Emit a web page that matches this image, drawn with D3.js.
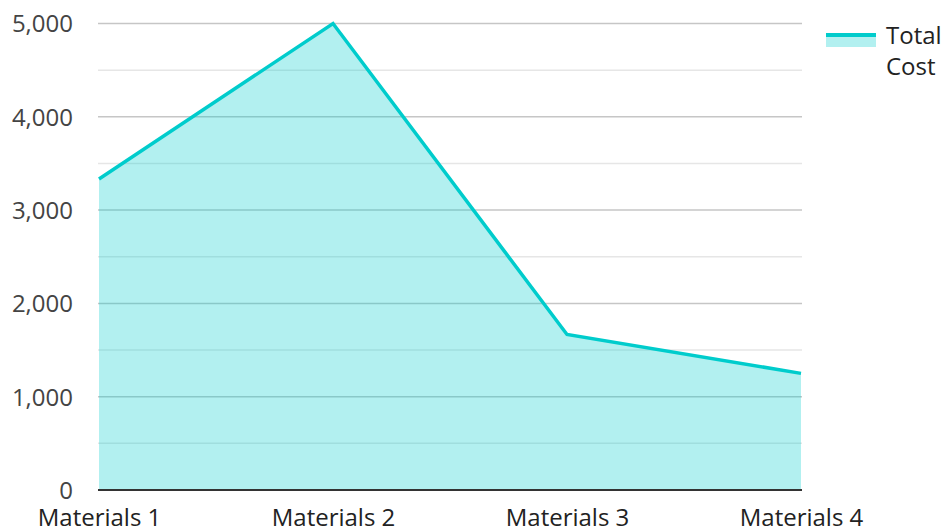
<!DOCTYPE html>
<html><head><meta charset="utf-8">
<script src="https://cdn.jsdelivr.net/npm/d3@7"></script>
<style>body{margin:0;background:#fff;}svg{display:block;font-family:"Open Sans",sans-serif;}</style>
</head><body><svg id="c" width="942" height="531"></svg>
<script>
const categories = ["Materials 1","Materials 2","Materials 3","Materials 4"];
const totalCost = [3333, 5000, 1667, 1250];
const majorTicks = [0,1000,2000,3000,4000,5000];
const minorTicks = [500,1500,2500,3500,4500];
const seriesName = ["Total","Cost"];

const svg = d3.select("#c");
const x = d3.scalePoint().domain(categories).range([99, 801]);
const y = d3.scaleLinear().domain([0,5000]).range([490, 23.5]);
const lineColor = "#00cccc", fillColor = "rgba(0,204,204,0.3)";

const g = svg.append("g");
g.selectAll("line.minor").data(minorTicks).join("line")
  .attr("x1",98).attr("x2",802).attr("y1",d=>y(d)).attr("y2",d=>y(d))
  .attr("stroke","#e6e6e6").attr("stroke-width",1.5);
g.selectAll("line.major").data(majorTicks.filter(d=>d>0)).join("line")
  .attr("x1",98).attr("x2",802).attr("y1",d=>y(d)).attr("y2",d=>y(d))
  .attr("stroke","#c6c6c6").attr("stroke-width",1.5);

const data = categories.map((c,i)=>({c, v: totalCost[i]}));
g.append("path").datum(data)
  .attr("d", d3.area().x(d=>x(d.c)).y0(y(0)).y1(d=>y(d.v)))
  .attr("fill", fillColor);
g.append("path").datum(data)
  .attr("d", d3.line().x(d=>x(d.c)).y(d=>y(d.v)))
  .attr("fill","none").attr("stroke",lineColor).attr("stroke-width",3.5).attr("stroke-linejoin","miter");

g.append("line").attr("x1",98).attr("x2",802).attr("y1",y(0)).attr("y2",y(0))
  .attr("stroke","#333").attr("stroke-width",2);

// y axis labels
const ya = svg.append("g").attr("transform","translate(73,0)")
  .call(d3.axisLeft(y).tickValues(majorTicks).tickFormat(d3.format(",")).tickSize(0).tickPadding(0));
ya.select(".domain").remove();
ya.selectAll("text").attr("font-size",24).attr("fill","#444").attr("font-family","Open Sans").attr("dy","0.35em");

// x axis labels
const xa = svg.append("g").attr("transform","translate(0,503)")
  .call(d3.axisBottom(x).tickSize(0).tickPadding(0));
xa.select(".domain").remove();
xa.selectAll("text").attr("font-size",24).attr("fill","#222").attr("font-family","Open Sans").attr("dy","0.95em");

// legend
const lg = svg.append("g");
lg.append("rect").attr("x",826).attr("y",35).attr("width",50).attr("height",12).attr("fill",fillColor);
lg.append("rect").attr("x",826).attr("y",33).attr("width",50).attr("height",4).attr("fill",lineColor);
lg.selectAll("text").data(seriesName).join("text")
  .attr("x",886).attr("y",(d,i)=>44+i*31).attr("font-size",24).attr("fill","#222").text(d=>d);
</script></body></html>
